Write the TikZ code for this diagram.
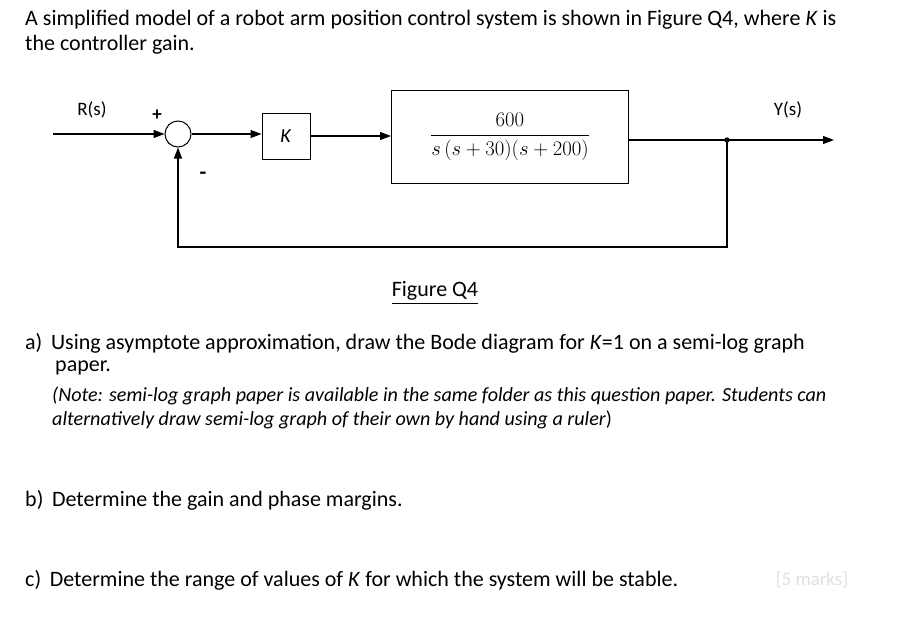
\documentclass[tikz,border=0pt]{standalone}
\usepackage{fontspec}
\setmainfont{Carlito}
\usepackage{amsmath}
\usetikzlibrary{arrows.meta}
\begin{document}
\begin{tikzpicture}[x=1pt,y=-1pt,
  txt/.style={anchor=west,inner sep=0pt,font=\fontsize{22}{26}\selectfont},
  note/.style={anchor=west,inner sep=0pt,font=\fontsize{20.1}{23}\selectfont\itshape},
  blk/.style={draw,line width=1pt},
  lbl/.style={inner sep=0pt,font=\fontsize{19}{22}\selectfont},
  arr/.style={line width=1.1pt,-{Triangle[length=11pt,width=8pt]}},
  ln/.style={line width=1pt}]
\useasboundingbox (0,0) rectangle (907,624);
\node[txt] (t1) at (25,20) {A simplified model of a robot arm position control system is shown in Figure Q4, where \textit{K} is};
\node[txt] (t2) at (25,45) {the controller gain.};
% block diagram
\coordinate (in) at (53,134);
\node[draw,circle,minimum size=26pt,inner sep=0pt,line width=1pt] (sum) at (178,134) {};
\node[blk,minimum width=48pt,minimum height=46pt] (K) at (286,136) {\fontsize{20}{22}\selectfont\textit{K}};
\node[blk,minimum width=237pt,minimum height=93pt] (G) at (510,137)
  {\fontsize{22.5}{26}\selectfont$\dfrac{600}{s\,(s+30)(s+200)}$};
\coordinate (dot) at (727,140);
\coordinate (out) at (834,140);
\coordinate (fb1) at (727,247);
\coordinate (fb2) at (178,247);
\draw[arr] (in) -- (sum.west);
\draw[arr] (sum.east) -- (K.west |- sum.east);
\draw[arr] (K.east) -- (G.west |- K.east);
\draw[arr] (G.east |- dot) -- (out);
\fill (dot) circle (2.7pt);
\draw[arr] (dot) -- (fb1) -- (fb2) -- (sum.south);
\node[lbl] (R) at (92,110) {R(s)};
\node[lbl] (Y) at (788,110) {Y(s)};
\node[lbl,font=\fontsize{19}{22}\selectfont\bfseries] (plus) at (157,115) {+};
\node[lbl,font=\fontsize{22}{22}\selectfont\bfseries] (minus) at (203,176) {-};
\node[inner sep=0pt,font=\fontsize{22}{26}\selectfont] (fig) at (435,293) {\underline{Figure Q4}};
\node[txt] (a1) at (25,343) {a)\ \,Using asymptote approximation, draw the Bode diagram for \textit{K}=1 on a semi-log graph};
\node[txt] (a2) at (55,368) {paper.};
\node[note] (n1) at (52,396) {(Note: semi-log graph paper is available in the same folder as this question paper. Students can};
\node[note] (n2) at (52,420) {alternatively draw semi-log graph of their own by hand using a ruler\upshape)};
\node[txt] (b) at (25,500) {b)\ \,Determine the gain and phase margins.};
\node[txt] (c) at (25,580) {c)\ \,Determine the range of values of \textit{K} for which the system will be stable.};
\node[inner sep=0pt,font=\fontsize{19}{22}\selectfont,text=black!12] (m) at (812,580) {[5 marks]};
\end{tikzpicture}
\end{document}
